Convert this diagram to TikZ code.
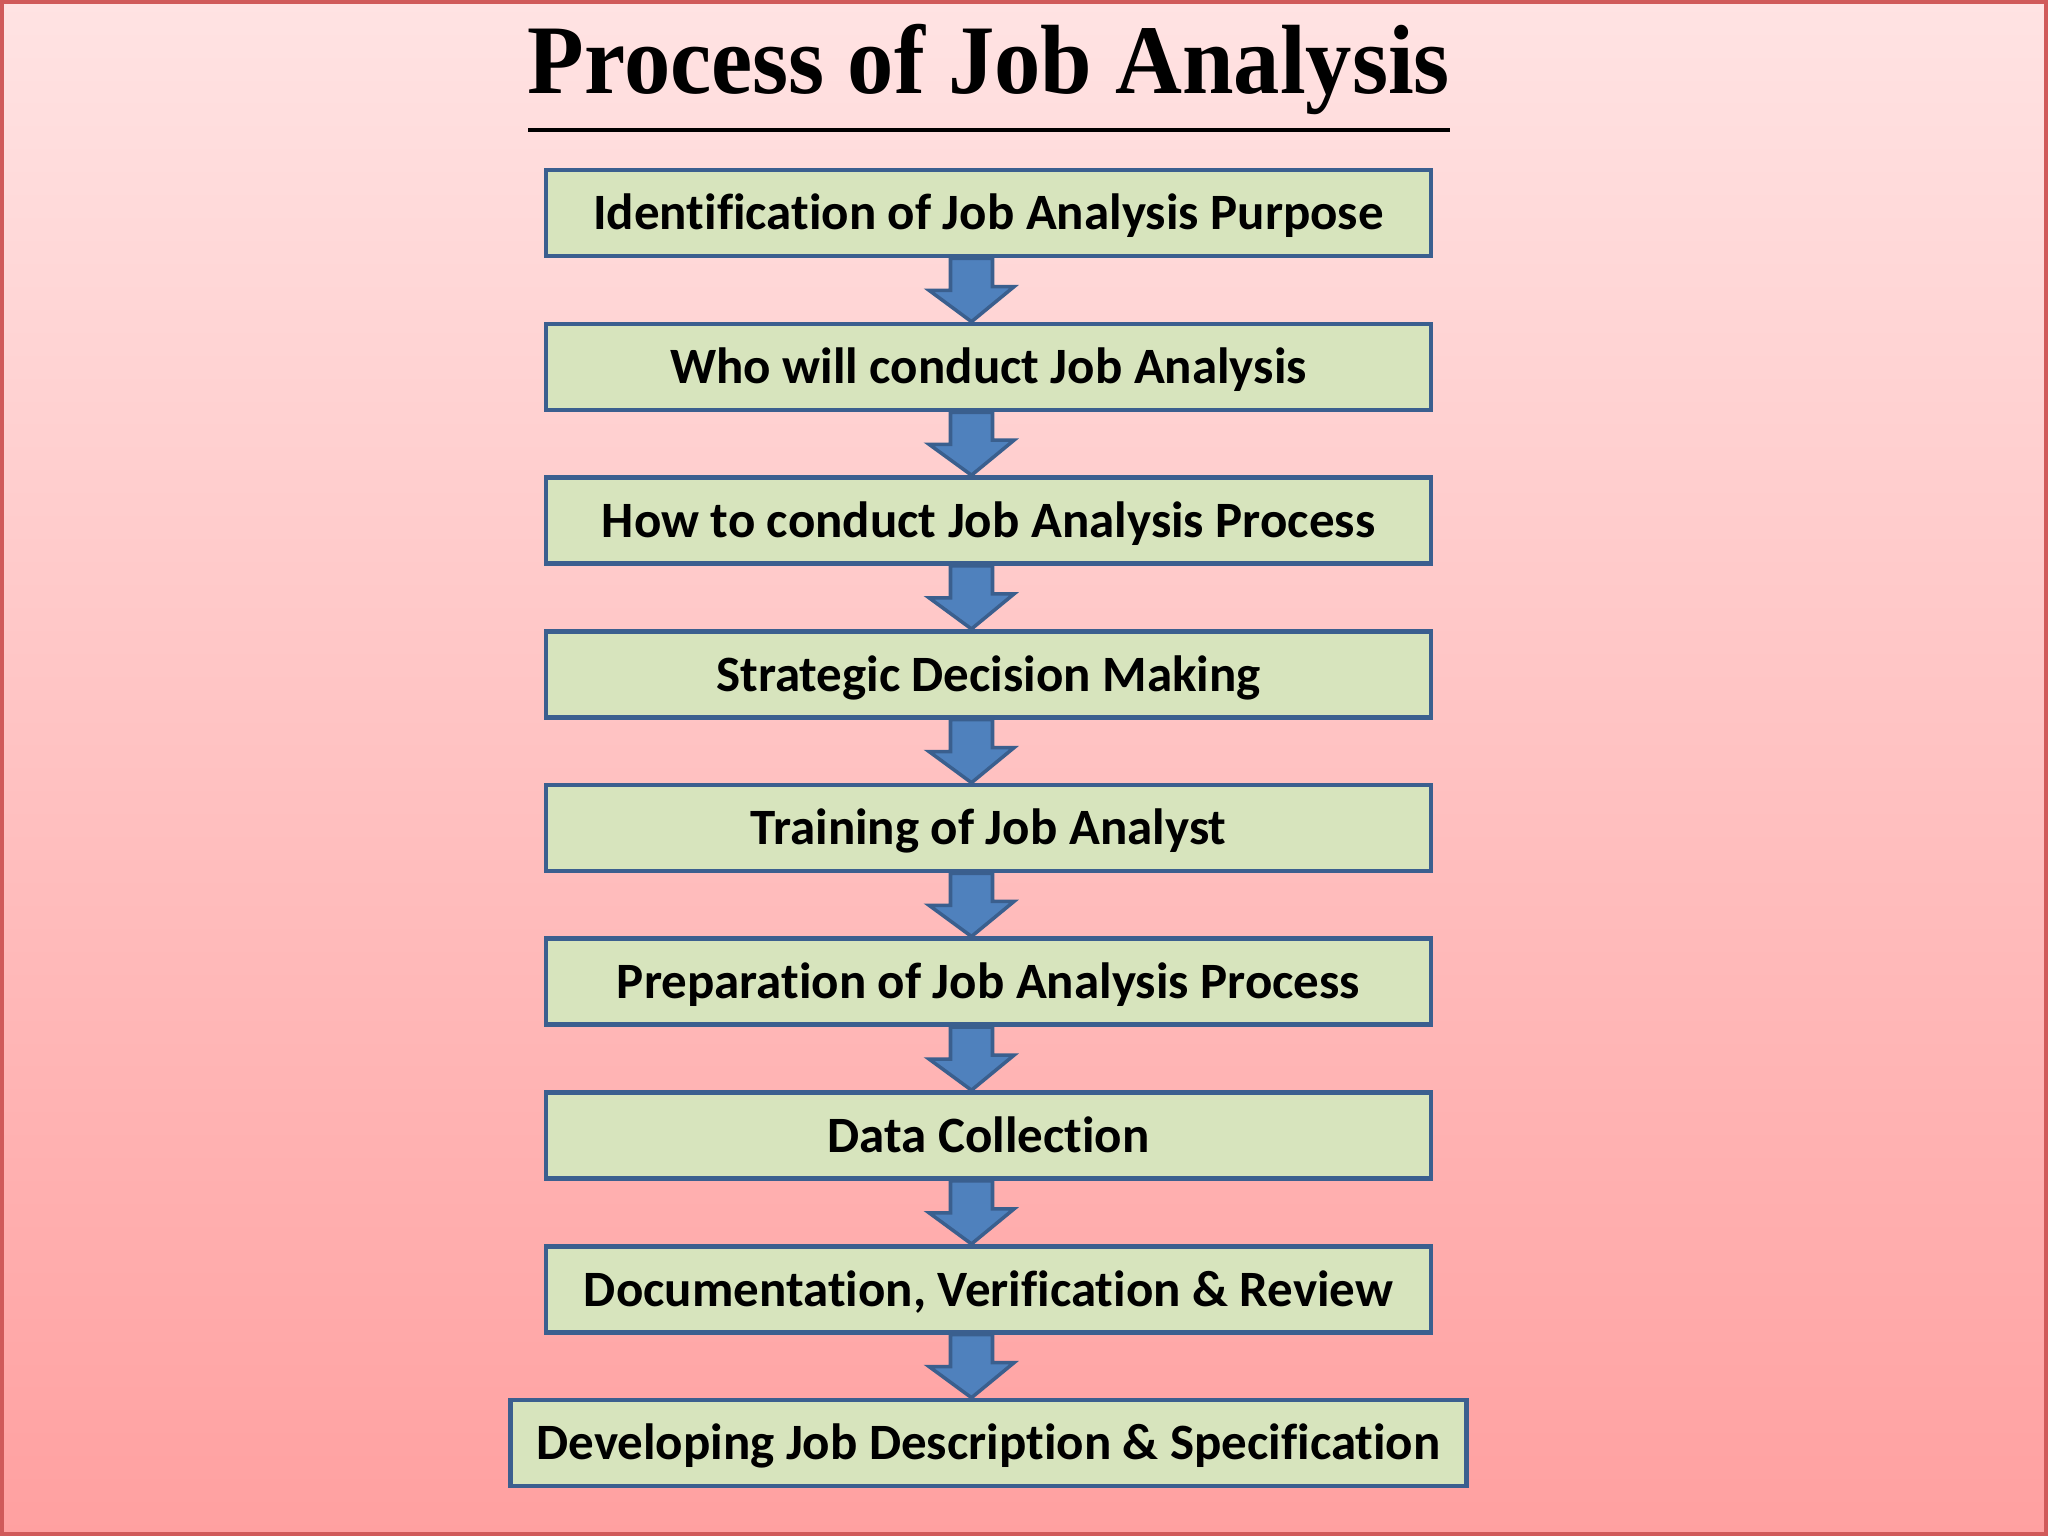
\documentclass[tikz,border=0pt]{standalone}
\usepackage{fontspec}
\setsansfont{Carlito}[Ligatures=NoCommon]
\newfontfamily\titlefont{Liberation Serif}
\definecolor{boxfill}{HTML}{D7E4BD}
\definecolor{boxline}{HTML}{3B5F8F}
\definecolor{arrowfill}{HTML}{4F81BD}
\definecolor{arrowline}{HTML}{3A5F8E}
\definecolor{bgtop}{HTML}{FFE3E3}
\definecolor{bgbottom}{HTML}{FFA0A0}
\definecolor{frameline}{HTML}{D05A5A}

\begin{document}
\begin{tikzpicture}[stepbox/.style={draw=boxline, fill=boxfill, line width=1.3pt, minimum width=8.85cm, minimum height=0.86cm, inner sep=0pt, text height=0.36cm, text depth=0.02cm, font=\sffamily\bfseries\fontsize{14.5}{17}\selectfont},
  blockarrow/.style={draw=arrowline, fill=arrowfill, line width=1pt, line join=miter}]
\useasboundingbox (0,0) rectangle (20.48,15.36);
\shade[top color=bgtop, bottom color=bgbottom] (0,0) rectangle (20.48,15.36);
\draw[frameline, line width=1.2pt] (0.02,0.02) rectangle (20.46,15.34);
\node[anchor=base, inner sep=0pt] (title) at (9.89,14.42) {\titlefont\bfseries\fontsize{28}{30}\selectfont\resizebox{9.22cm}{\height}{Process of Job Analysis}};
\draw[line width=1.3pt] (5.28,14.06) -- (14.50,14.06);
\node[stepbox] (b1) at (9.885,13.23) {Identification of Job Analysis Purpose};
\node[stepbox] (b2) at (9.885,11.69) {Who will conduct Job Analysis};
\node[stepbox] (b3) at (9.885,10.155) {How to conduct Job Analysis Process};
\node[stepbox] (b4) at (9.885,8.6175) {Strategic Decision Making};
\node[stepbox] (b5) at (9.885,7.08) {Training of Job Analyst};
\node[stepbox] (b6) at (9.885,5.5425) {Preparation of Job Analysis Process};
\node[stepbox] (b7) at (9.885,4.005) {Data Collection};
\node[stepbox] (b8) at (9.885,2.4675) {Documentation, Verification \& Review};
\node[stepbox, minimum width=9.56cm] (b9) at (9.885,0.93) {Developing Job Description \& Specification};
\foreach \i/\j in {1/2,2/3,3/4,4/5,5/6,6/7,7/8,8/9}
  \draw[blockarrow] ([xshift=-0.38cm]b\i.south) -- ++(0,-0.32) -- ++(-0.215,0)
    -- ([xshift=-0.17cm]b\j.north) -- ++(0.425,0.35) -- ++(-0.215,0)
    -- ([xshift=0.04cm]b\i.south) -- cycle;
\end{tikzpicture}
\end{document}
